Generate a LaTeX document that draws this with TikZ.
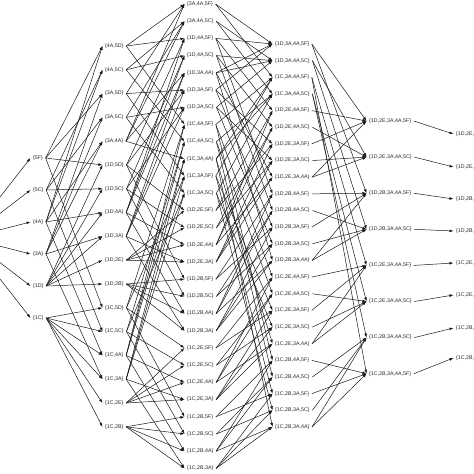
\documentclass[tikz,border=0pt]{standalone}
\usepackage{fontspec}
\setmainfont{Liberation Sans}
\usetikzlibrary{arrows.meta}
\begin{document}
\begin{tikzpicture}[x=1pt,y=-1pt,
  lab/.style={anchor=west, inner xsep=2.5pt, inner ysep=1pt, font=\fontsize{5.3}{6}\selectfont, text=black!85},
  edge/.style={draw=black!90, line width=0.5pt, -{Latex[length=4pt,width=2.8pt]}}]
\useasboundingbox (0,0) rectangle (474,474);
\clip (0,0) rectangle (474,474);
\coordinate (src) at (-32,238);
% column 1
\foreach \n [count=\i from 0] in {5F,5C,4A,3A,1D,1C}
  \node[lab] (n\n) at (30.5,158+32*\i) {\{\n\}};
% column 2
\foreach \n/\l [count=\i from 0] in {4A5F/{4A,5D},4A5C/{4A,5C},3A5F/{3A,5D},3A5C/{3A,5C},3A4A/{3A,4A},1D5F/{1D,5D},1D5C/{1D,5C},1D4A/{1D,4A},1D3A/{1D,3A},1D2E/{1D,2E},1D2B/{1D,2B},1C5F/{1C,5D},1C5C/{1C,5C},1C4A/{1C,4A},1C3A/{1C,3A},1C2E/{1C,2E},1C2B/{1C,2B}}
  \node[lab] (n\n) at (102.5,46+23.8*\i) {\{\l\}};
% column 3
\foreach \n/\l [count=\i from 0] in {3A4A5F/{3A,4A,5F},3A4A5C/{3A,4A,5C},1D4A5F/{1D,4A,5F},1D4A5C/{1D,4A,5C},1D3A4A/{1D,3A,4A},1D3A5F/{1D,3A,5F},1D3A5C/{1D,3A,5C},1C4A5F/{1C,4A,5F},1C4A5C/{1C,4A,5C},1C3A4A/{1C,3A,4A},1C3A5F/{1C,3A,5F},1C3A5C/{1C,3A,5C},1D2E5F/{1D,2E,5F},1D2E5C/{1D,2E,5C},1D2E4A/{1D,2E,4A},1D2E3A/{1D,2E,3A},1D2B5F/{1D,2B,5F},1D2B5C/{1D,2B,5C},1D2B4A/{1D,2B,4A},1D2B3A/{1D,2B,3A},1C2E5F/{1C,2E,5F},1C2E5C/{1C,2E,5C},1C2E4A/{1C,2E,4A},1C2E3A/{1C,2E,3A},1C2B5F/{1C,2B,5F},1C2B5C/{1C,2B,5C},1C2B4A/{1C,2B,4A},1C2B3A/{1C,2B,3A}}
  \node[lab] (n\n) at (184.5,4+17.2*\i) {\{\l\}};
% column 4
\foreach \n/\l [count=\i from 0] in {1D3A4A5F/{1D,3A,4A,5F},1D3A4A5C/{1D,3A,4A,5C},1C3A4A5F/{1C,3A,4A,5F},1C3A4A5C/{1C,3A,4A,5C},1D2E4A5F/{1D,2E,4A,5F},1D2E4A5C/{1D,2E,4A,5C},1D2E3A5F/{1D,2E,3A,5F},1D2E3A5C/{1D,2E,3A,5C},1D2E3A4A/{1D,2E,3A,4A},1D2B4A5F/{1D,2B,4A,5F},1D2B4A5C/{1D,2B,4A,5C},1D2B3A5F/{1D,2B,3A,5F},1D2B3A5C/{1D,2B,3A,5C},1D2B3A4A/{1D,2B,3A,4A},1C2E4A5F/{1C,2E,4A,5F},1C2E4A5C/{1C,2E,4A,5C},1C2E3A5F/{1C,2E,3A,5F},1C2E3A5C/{1C,2E,3A,5C},1C2E3A4A/{1C,2E,3A,4A},1C2B4A5F/{1C,2B,4A,5F},1C2B4A5C/{1C,2B,4A,5C},1C2B3A5F/{1C,2B,3A,5F},1C2B3A5C/{1C,2B,3A,5C},1C2B3A4A/{1C,2B,3A,4A}}
  \node[lab] (n\n) at (272.5,44+16.65*\i) {\{\l\}};
% column 5
\foreach \n/\l [count=\i from 0] in {1D2E3A4A5F/{1D,2E,3A,4A,5F},1D2E3A4A5C/{1D,2E,3A,4A,5C},1D2B3A4A5F/{1D,2B,3A,4A,5F},1D2B3A4A5C/{1D,2B,3A,4A,5C},1C2E3A4A5F/{1C,2E,3A,4A,5F},1C2E3A4A5C/{1C,2E,3A,4A,5C},1C2B3A4A5C/{1C,2B,3A,4A,5C},1C2B3A4A5F/{1C,2B,3A,4A,5F}}
  \node[lab] (n\n) at (366.5,121+36.1*\i) {\{\l\}};
% column 6 (cut off at the right edge, as in the reference)
\foreach \n/\y/\l in {1/134/{1D,2E,3A,4A,5F},2/167/{1D,2E,3A,4A,5C},3/199/{1D,2B,3A,4A,5F},4/231/{1D,2B,3A,4A,5C},5/263/{1C,2E,3A,4A,5F},6/295/{1C,2E,3A,4A,5C},7/328/{1C,2B,3A,4A,5C},8/358/{1C,2B,3A,4A,5F}}
  \node[lab] (m\n) at (453.5,\y) {\{\l\}};
% edges: source -> column 1
\foreach \n in {5F,5C,4A,3A,1D,1C}
  \draw[edge] (src) -- (n\n.west);
% column 1 -> column 2
\foreach \a/\b in {5F/4A5F,4A/4A5F,5C/4A5C,4A/4A5C,5F/3A5F,3A/3A5F,5C/3A5C,3A/3A5C,4A/3A4A,3A/3A4A}
  \draw[edge] (n\a.east) -- (n\b.west);
\foreach \g in {1D,1C} {
  \foreach \e in {5F,5C,4A,3A} {
    \draw[edge] (n\g.east) -- (n\g\e.west);
    \draw[edge] (n\e.east) -- (n\g\e.west);
  }
  \foreach \e in {2E,2B}
    \draw[edge] (n\g.east) -- (n\g\e.west);
}
% column 2 -> column 3
\foreach \a/\b in {4A5F/3A4A5F,3A5F/3A4A5F,3A4A/3A4A5F,4A5C/3A4A5C,3A5C/3A4A5C,3A4A/3A4A5C}
  \draw[edge] (n\a.east) -- (n\b.west);
\foreach \g in {1D,1C} {
  \foreach \p/\q in {4A/5F,4A/5C,3A/4A,3A/5F,3A/5C} {
    \draw[edge] (n\p\q.east) -- (n\g\p\q.west);
    \draw[edge] (n\g\p.east) -- (n\g\p\q.west);
    \draw[edge] (n\g\q.east) -- (n\g\p\q.west);
  }
  \foreach \h in {2E,2B} {
    \foreach \e in {5F,5C,4A,3A} {
      \draw[edge] (n\g\h.east) -- (n\g\h\e.west);
      \draw[edge] (n\g\e.east) -- (n\g\h\e.west);
    }
  }
}
% column 3 -> column 4
\foreach \g in {1D,1C} {
  \foreach \f in {5F,5C} {
    \draw[edge] (n3A4A\f.east) -- (n\g3A4A\f.west);
    \draw[edge] (n\g4A\f.east) -- (n\g3A4A\f.west);
    \draw[edge] (n\g3A\f.east) -- (n\g3A4A\f.west);
    \draw[edge] (n\g3A4A.east) -- (n\g3A4A\f.west);
  }
  \foreach \h in {2E,2B} {
    \foreach \p/\q in {4A/5F,4A/5C,3A/5F,3A/5C,3A/4A} {
      \draw[edge] (n\g\p\q.east) -- (n\g\h\p\q.west);
      \draw[edge] (n\g\h\q.east) -- (n\g\h\p\q.west);
      \draw[edge] (n\g\h\p.east) -- (n\g\h\p\q.west);
    }
  }
}
% column 4 -> column 5
\foreach \g in {1D,1C} {
  \foreach \h in {2E,2B} {
    \foreach \f in {5F,5C} {
      \draw[edge] (n\g3A4A\f.east) -- (n\g\h3A4A\f.west);
      \draw[edge] (n\g\h4A\f.east) -- (n\g\h3A4A\f.west);
      \draw[edge] (n\g\h3A\f.east) -- (n\g\h3A4A\f.west);
      \draw[edge] (n\g\h3A4A.east) -- (n\g\h3A4A\f.west);
    }
  }
}
% column 5 -> column 6
\foreach \a/\b in {1D2E3A4A5F/1,1D2E3A4A5C/2,1D2B3A4A5F/3,1D2B3A4A5C/4,1C2E3A4A5F/5,1C2E3A4A5C/6,1C2B3A4A5C/7,1C2B3A4A5F/8}
  \draw[edge] (n\a.east) -- (m\b.west);
\end{tikzpicture}
\end{document}
